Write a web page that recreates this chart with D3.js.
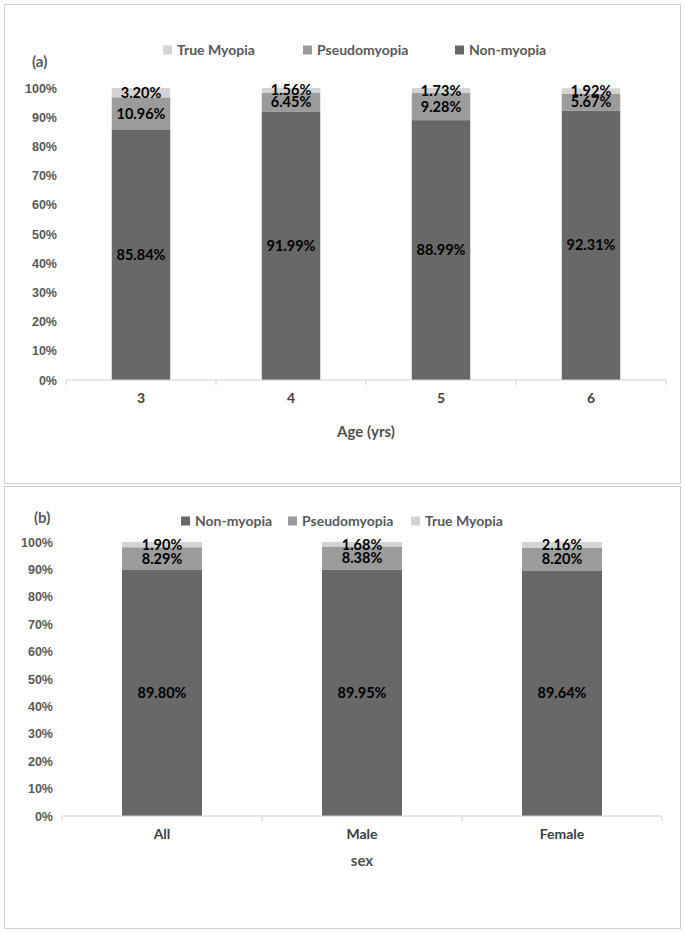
<!DOCTYPE html>
<html>
<head>
<meta charset="utf-8">
<script src="https://cdn.jsdelivr.net/npm/d3@7"></script>
<style>
  body { margin: 0; background: #fff; }
  svg { font-family: Lato, "Open Sans", sans-serif; }
</style>
</head>
<body>
<div id="chart"></div>
<script>
// values (percent)
const ageCats = ["3", "4", "5", "6"];
const ageNon = [85.84, 91.99, 88.99, 92.31];
const agePseudo = [10.96, 6.45, 9.28, 5.67];
const ageTrue = [3.20, 1.56, 1.73, 1.92];

const sexCats = ["All", "Male", "Female"];
const sexNon = [89.80, 89.95, 89.64];
const sexPseudo = [8.29, 8.38, 8.20];
const sexTrue = [1.90, 1.68, 2.16];

const yTicks = [0, 10, 20, 30, 40, 50, 60, 70, 80, 90, 100];
const keys = ["Non-myopia", "Pseudomyopia", "True Myopia"];
const colors = {"Non-myopia": "#686868", "Pseudomyopia": "#9b9b9b", "True Myopia": "#d3d3d3"};

const svg = d3.select("#chart").append("svg")
  .attr("width", 685)
  .attr("height", 934);

// panel frames
svg.append("rect").attr("x", 4.5).attr("y", 4.5).attr("width", 676).attr("height", 479)
  .attr("fill", "none").attr("stroke", "#d0d0d0");
svg.append("rect").attr("x", 4.5).attr("y", 486.5).attr("width", 676).attr("height", 442)
  .attr("fill", "none").attr("stroke", "#d0d0d0");

function drawPanel(cfg) {
  const rows = cfg.cats.map((c, i) => ({
    cat: c,
    "Non-myopia": cfg.non[i],
    "Pseudomyopia": cfg.pseudo[i],
    "True Myopia": cfg.tru[i]
  }));

  const x = d3.scaleBand()
    .domain(cfg.cats)
    .range([cfg.x0, cfg.x1])
    .paddingInner(cfg.pad)
    .paddingOuter(cfg.pad / 2);
  const y = d3.scaleLinear()
    .domain([0, 100])
    .range([cfg.y0, cfg.y1]);

  const g = svg.append("g");

  // y axis labels only
  const yAxis = g.append("g")
    .attr("transform", "translate(" + cfg.x0 + ",0)")
    .call(d3.axisLeft(y).tickValues(yTicks).tickFormat(d => d + "%").tickSize(0).tickPadding(cfg.yPad));
  yAxis.select(".domain").remove();
  yAxis.selectAll("text")
    .attr("fill", "#595959")
    .attr("font-size", 12.5)
    .attr("font-weight", 700)
    .attr("font-family", null);

  // stacked bars
  const series = d3.stack().keys(keys)(rows);
  g.selectAll(".layer")
    .data(series)
    .enter()
    .append("g")
    .attr("fill", d => colors[d.key])
    .selectAll("rect")
    .data(d => d)
    .enter()
    .append("rect")
    .attr("x", d => x(d.data.cat))
    .attr("width", x.bandwidth())
    .attr("y", d => y(Math.min(d[1], 100)))
    .attr("height", d => y(d[0]) - y(Math.min(d[1], 100)));

  // x axis
  const step = (cfg.x1 - cfg.x0) / cfg.cats.length;
  const xAxis = g.append("g")
    .attr("transform", "translate(0," + cfg.y0 + ")");
  xAxis.append("line")
    .attr("x1", cfg.x0).attr("x2", cfg.x1)
    .attr("stroke", "#d0d0d0");
  xAxis.selectAll(".tk")
    .data(d3.range(cfg.cats.length + 1))
    .enter()
    .append("line")
    .attr("x1", i => cfg.x0 + i * step)
    .attr("x2", i => cfg.x0 + i * step)
    .attr("y2", 5)
    .attr("stroke", "#d0d0d0");
  g.selectAll(".lbl")
    .data(cfg.cats)
    .enter()
    .append("text")
    .attr("x", d => x(d) + x.bandwidth() / 2)
    .attr("y", cfg.catY)
    .attr("text-anchor", "middle")
    .attr("fill", "#404040")
    .attr("font-size", 14)
    .attr("font-weight", 700)
    .text(d => d);

  g.append("text")
    .attr("x", (cfg.x0 + cfg.x1) / 2)
    .attr("y", cfg.titleY)
    .attr("text-anchor", "middle")
    .attr("fill", "#505050")
    .attr("font-size", 15)
    .attr("font-weight", 700)
    .text(cfg.title);

  // data labels
  series.forEach(s => {
    g.selectAll(null)
      .data(s)
      .enter()
      .append("text")
      .attr("x", d => x(d.data.cat) + x.bandwidth() / 2)
      .attr("y", d => y((d[0] + Math.min(d[1], 100)) / 2))
      .attr("dy", "0.36em")
      .attr("text-anchor", "middle")
      .attr("fill", "#000")
      .attr("font-size", 14.5)
      .attr("font-weight", 700)
      .text(d => (d[1] - d[0]).toFixed(2) + "%");
  });

  // panel tag
  g.append("text")
    .attr("x", cfg.tagX)
    .attr("y", cfg.tagY)
    .attr("fill", "#595959")
    .attr("font-size", 15)
    .attr("font-weight", 700)
    .text(cfg.tag);

  // legend
  const leg = g.selectAll(".leg")
    .data(cfg.legend)
    .enter()
    .append("g")
    .attr("transform", d => "translate(" + d.x + "," + cfg.legY + ")");
  leg.append("rect")
    .attr("x", 0).attr("y", -4.5)
    .attr("width", 9).attr("height", 9)
    .attr("fill", d => colors[d.key]);
  leg.append("text")
    .attr("x", 14)
    .attr("dy", "0.35em")
    .attr("fill", "#595959")
    .attr("font-size", 14)
    .attr("font-weight", 700)
    .text(d => d.key);
}

drawPanel({
  cats: ageCats, non: ageNon, pseudo: agePseudo, tru: ageTrue,
  x0: 66, x1: 666, y0: 380, y1: 88, pad: 0.61, yPad: 9,
  catY: 403, titleY: 437, title: "Age (yrs)",
  tag: "(a)", tagX: 32, tagY: 67,
  legY: 50,
  legend: [{key: "True Myopia", x: 163}, {key: "Pseudomyopia", x: 303}, {key: "Non-myopia", x: 455}]
});

drawPanel({
  cats: sexCats, non: sexNon, pseudo: sexPseudo, tru: sexTrue,
  x0: 62, x1: 662, y0: 816, y1: 542, pad: 0.6, yPad: 9,
  catY: 839, titleY: 866, title: "sex",
  tag: "(b)", tagX: 34, tagY: 523,
  legY: 521,
  legend: [{key: "Non-myopia", x: 181}, {key: "Pseudomyopia", x: 288}, {key: "True Myopia", x: 411}]
});
</script>
</body>
</html>
